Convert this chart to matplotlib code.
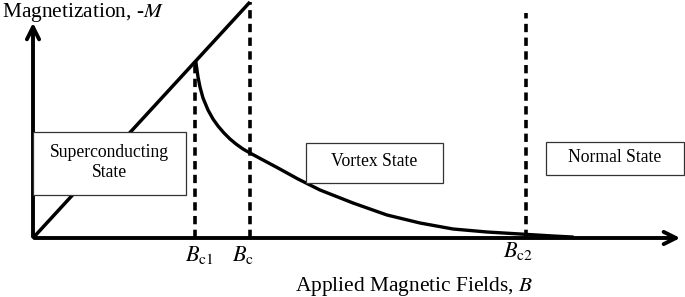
import numpy as np
import matplotlib.pyplot as plt
from matplotlib.patches import Rectangle

plt.rcParams['font.family'] = ['Liberation Serif', 'DejaVu Serif']
plt.rcParams['mathtext.fontset'] = 'stix'

# characteristic fields (arbitrary units)
Bc1 = 162
Bc = 217
Bc2 = 493
M_top = 236

# Meissner line: -M grows linearly up to Bc
meissner_B = [0, Bc]
meissner_M = [0, M_top]

# vortex state magnetization
vortex_B = [163, 164, 165, 167, 170, 175, 180, 185, 191, 197, 203, 210, 217, 230, 245,
            265, 287, 320, 354, 387, 420, 454, 487, 520, 539]
vortex_M = [175, 168, 161, 151, 140, 128, 119, 112, 105, 99, 94, 89, 85, 78, 70,
            59, 48, 35, 23, 15, 9, 6, 4, 2, 1]

# state labels: (text, x0, y0, width, height)
boxes = [
    ("Superconducting\nState", 0, 43, 153, 63),
    ("Vortex State", 273, 55, 137, 40),
    ("Normal State", 513, 63, 138, 33),
]

#=============================#

fig = plt.figure(figsize=(6.85, 2.97), dpi=100)
ax = fig.add_axes([0, 0, 1, 1])
ax.set_xlim(-33, 652)
ax.set_ylim(-59, 238)
ax.axis('off')

# axes with open arrow heads
ax.annotate('', xy=(0, 218), xytext=(0, -1.5),
            arrowprops=dict(arrowstyle='->', lw=2.8, color='black', mutation_scale=22))
ax.annotate('', xy=(650, 0), xytext=(-1.5, 0),
            arrowprops=dict(arrowstyle='->', lw=2.8, color='black', mutation_scale=22))

ax.plot(meissner_B, meissner_M, color='black', lw=2.5, solid_capstyle='butt')
ax.plot(vortex_B, vortex_M, color='black', lw=2.4)

dash = (0, (2.3, 1.5))
ax.plot([Bc1, Bc1], [0, 176], color='black', lw=2.6, ls=dash)
ax.plot([Bc, Bc], [0, M_top], color='black', lw=2.6, ls=dash)
ax.plot([Bc2, Bc2], [0, 225], color='black', lw=2.6, ls=dash)

for txt, x0, y0, w, h in boxes:
    ax.add_patch(Rectangle((x0, y0), w, h, facecolor='white', edgecolor='#333333', lw=0.9, zorder=3))
    ax.text(x0 + w / 2, y0 + h / 2 + 1, txt, ha='center', va='center', fontsize=12.7,
            linespacing=1.25, zorder=4)

ax.text(152, -23, r'$B_{\rm c1}$', ha='left', va='baseline', fontsize=16)
ax.text(199, -23, r'$B_{\rm c}$', ha='left', va='baseline', fontsize=16)
ax.text(470, -19, r'$B_{\rm c2}$', ha='left', va='baseline', fontsize=16)

ax.text(262, -53, r'Applied Magnetic Fields, $B$', ha='left', va='baseline', fontsize=15.4)
ax.text(-31, 221, r'Magnetization, -$M$', ha='left', va='baseline', fontsize=15.4)

fig.savefig('out.png', dpi=100)
